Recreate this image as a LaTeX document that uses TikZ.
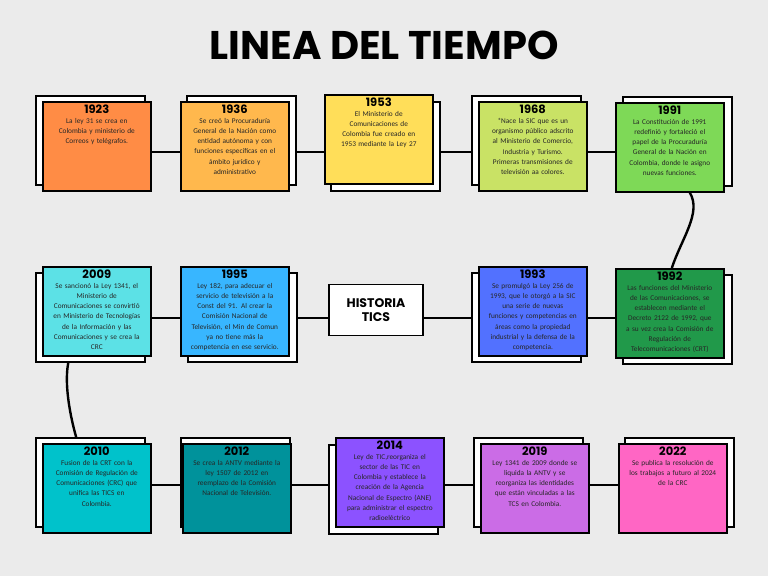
\documentclass[tikz,border=0pt]{standalone}
\usepackage{fontspec}
\setmainfont{Carlito}
\newfontfamily\titlefont{Poppins}
\usetikzlibrary{backgrounds}
\definecolor{bg}{HTML}{EBEBEB}
\definecolor{c1923}{HTML}{FF8C45}
\definecolor{c1936}{HTML}{FFB84D}
\definecolor{c1953}{HTML}{FFDE59}
\definecolor{c1968}{HTML}{C9E265}
\definecolor{c1991}{HTML}{7ED957}
\definecolor{c2009}{HTML}{5CE1E6}
\definecolor{c1995}{HTML}{38B6FF}
\definecolor{c1993}{HTML}{5271FF}
\definecolor{c1992}{HTML}{21994A}
\definecolor{c2010}{HTML}{00C2CB}
\definecolor{c2012}{HTML}{00929B}
\definecolor{c2014}{HTML}{8C52FF}
\definecolor{c2019}{HTML}{CB6CE6}
\definecolor{c2022}{HTML}{FF66C4}
\tikzset{
 backbox/.style={draw=black,line width=1.6pt,fill=white,minimum width=109pt,minimum height=89pt,anchor=north west,inner sep=0pt},
 frontbox/.style={draw=black,line width=1.6pt,minimum width=108pt,minimum height=89pt,anchor=north west,inner sep=0pt},
 yeartxt/.style={font=\titlefont\bfseries\fontsize{11.5}{11.5}\selectfont,anchor=north,inner sep=0pt},
 bodytxt/.style={font=\fontsize{7.3}{10.2}\selectfont,align=center,text width=106pt,anchor=north,inner sep=0pt,text=black!85},
 link/.style={line width=2.4pt,draw=black}
}
% #1 name, #2 x, #3 y, #4 dx back, #5 dy back, #6 color, #7 year, #8 text
\newcommand{\mycard}[8]{%
 \node[backbox] at (#2+#4,#3+#5) {};
 \node[frontbox,fill=#6] (#1) at (#2,#3) {};
 \node[yeartxt] (#1y) at ([yshift=-4pt]#1.north) {#7};
 \node[bodytxt] (#1t) at ([yshift=-4pt]#1y.south) {#8};
}
\begin{document}
\begin{tikzpicture}[x=1pt,y=-1pt]
\useasboundingbox (0,0) rectangle (768,576);
\node[font=\titlefont\bfseries\fontsize{40}{40}\selectfont,inner sep=0pt] (title) at (384,45) {LINEA DEL TIEMPO};
\mycard{a1923}{42}{101}{-7}{-6}{c1923}{1923}{La ley 31 se crea en\\Colombia y ministerio de\\Correos y telégrafos.}
\mycard{a1936}{180}{101}{6}{-6}{c1936}{1936}{Se creó la Procuraduría\\General de la Nación como\\entidad autónoma y con\\funciones específicas en el\\ámbito jurídico y\\administrativo}
\mycard{a1953}{324}{94}{6}{7}{c1953}{1953}{El Ministerio de\\Comunicaciones de\\Colombia fue creado en\\1953 mediante la Ley 27}
\mycard{a1968}{478}{101}{-7}{-6}{c1968}{1968}{*Nace la SIC que es un\\organismo público adscrito\\al Ministerio de Comercio,\\Industria y Turismo.\\*Primeras transmisiones de\\televisión aa colores.}
\mycard{a1991}{615}{102}{7}{-6}{c1991}{1991}{La Constitución de 1991\\redefinió y fortaleció el\\papel de la Procuraduría\\General de la Nación en\\Colombia, donde le asigno\\nuevas funciones.}
\mycard{a2009}{42}{266}{-7}{6}{c2009}{2009}{Se sancionó la Ley 1341, el\\Ministerio de\\Comunicaciones se convirtió\\en Ministerio de Tecnologías\\de la Información y las\\Comunicaciones y se crea la\\CRC}
\mycard{a1995}{180}{266}{7}{6}{c1995}{1995}{Ley 182, para adecuar el\\servicio de televisión a la\\Const del 91. Al crear la\\Comisión Nacional de\\Televisión, el Min de Comun\\ya no tiene más la\\competencia en ese servicio.}
\mycard{a1993}{478}{266}{-7}{6}{c1993}{1993}{Se promulgó la Ley 256 de\\1993, que le otorgó a la SIC\\una serie de nuevas\\funciones y competencias en\\áreas como la propiedad\\industrial y la defensa de la\\competencia.}
\mycard{a1992}{615}{268}{7}{6}{c1992}{1992}{Las funciones del Ministerio\\de las Comunicaciones, se\\establecen mediante el\\Decreto 2122 de 1992, que\\a su vez crea la Comisión de\\Regulación de\\Telecomunicaciones (CRT)}
\mycard{a2010}{42}{443}{-7}{-6}{c2010}{2010}{Fusion de la CRT con la\\Comisión de Regulación de\\Comunicaciones (CRC) que\\unifica las TICS en\\Colombia.}
\mycard{a2012}{182}{443}{-2}{-6}{c2012}{2012}{Se crea la ANTV mediante la\\ley 1507 de 2012 en\\reemplazo de la Comisión\\Nacional de Televisión.}
\mycard{a2014}{335}{437}{-7}{7}{c2014}{2014}{Ley de TIC,reorganiza el\\sector de las TIC en\\Colombia y establece la\\creación de la Agencia\\Nacional de Espectro (ANE)\\para administrar el espectro\\radioeléctrico}
\mycard{a2019}{480}{443}{-7}{-6}{c2019}{2019}{Ley 1341 de 2009 donde se\\liquida la ANTV y se\\reorganiza las identidades\\que están vinculadas a las\\TCS en Colombia.}
\mycard{a2022}{618}{443}{6}{-6}{c2022}{2022}{Se publica la resolución de\\los trabajos a futuro al 2024\\de la CRC}
\node[draw=black,line width=1.6pt,fill=white,minimum width=94pt,minimum height=51pt,align=center,inner sep=0pt,font=\titlefont\bfseries\fontsize{12.5}{14}\selectfont] (hist) at (376,310) {HISTORIA\\TICS};
\coordinate (r1) at (0,152);
\coordinate (r2) at (0,318);
\coordinate (r3) at (0,485);
\begin{scope}[on background layer]
\fill[bg] (0,0) rectangle (768,576);
\draw[link] (r1 -| a1923.east) -- (r1 -| a1936.west);
\draw[link] (r1 -| a1936.east) -- (r1 -| a1953.west);
\draw[link] (r1 -| a1953.east) -- (r1 -| a1968.west);
\draw[link] (r1 -| a1968.east) -- (r1 -| a1991.west);
\draw[link] ([xshift=20pt]a1991.south) .. controls +(12,20) and +(10,-30) .. ([xshift=2pt]a1992.north);
\draw[link] (r2 -| a1992.west) -- (r2 -| a1993.east);
\draw[link] (r2 -| a1993.west) -- (r2 -| hist.east);
\draw[link] (r2 -| hist.west) -- (r2 -| a1995.east);
\draw[link] (r2 -| a1995.west) -- (r2 -| a2009.east);
\draw[link] ([xshift=-23pt,yshift=8pt]a2009.south) .. controls +(-14,20) and +(-10,-30) .. ([xshift=-17pt,yshift=-6pt]a2010.north);
\draw[link] (r3 -| a2010.east) -- (r3 -| a2012.west);
\draw[link] (r3 -| a2012.east) -- (r3 -| a2014.west);
\draw[link] (r3 -| a2014.east) -- (r3 -| a2019.west);
\draw[link] (r3 -| a2019.east) -- (r3 -| a2022.west);
\end{scope}
\end{tikzpicture}
\end{document}
